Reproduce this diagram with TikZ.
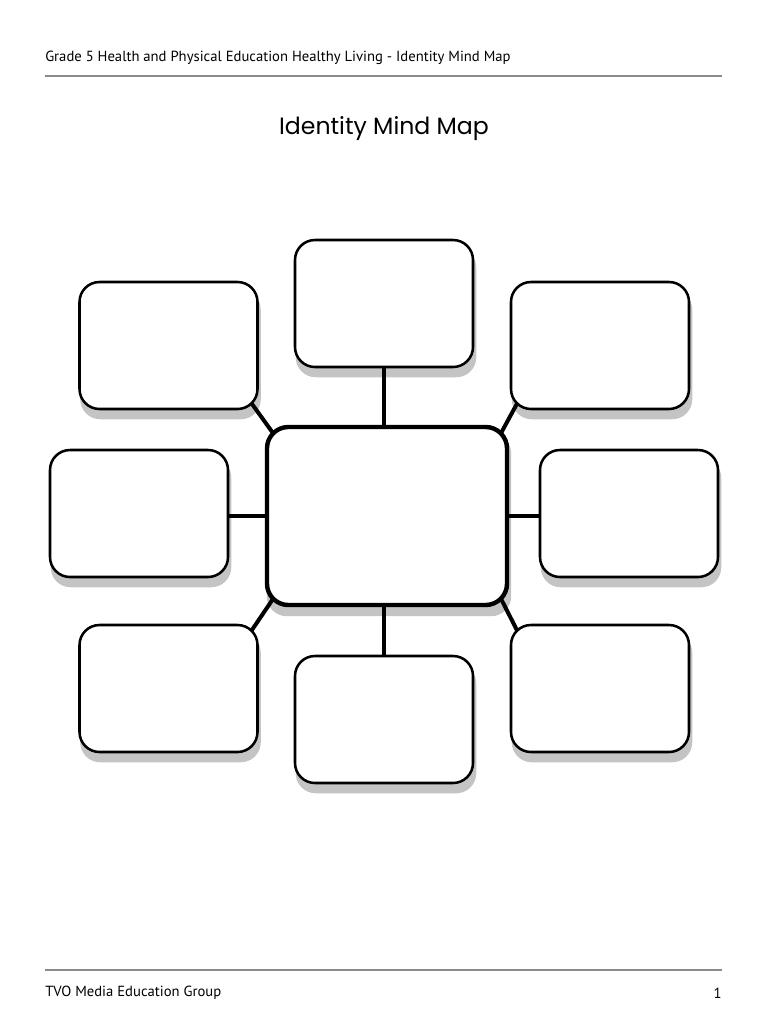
\documentclass[tikz,border=0pt]{standalone}
\usepackage{fontspec}
\setmainfont{PT Sans}
\newfontfamily\titlefont{Poppins}
\usepackage{xcolor}
\usepackage{tikz}
\usetikzlibrary{positioning,calc}
\definecolor{rulegray}{HTML}{8C8C8C}
\definecolor{shadegray}{HTML}{C4C4C4}
\pgfdeclarelayer{shade}
\pgfdeclarelayer{links}
\pgfsetlayers{shade,links,main}
\tikzset{
    idbox/.style={draw, fill=white, line width=1.9pt, rounded corners=15pt,
        minimum width=133.5pt, minimum height=95.25pt},
    hubbox/.style={idbox, line width=3.3pt, rounded corners=16pt,
        minimum width=180pt, minimum height=133.5pt},
    link/.style={line width=3pt},
    pagetext/.style={font=\fontsize{11}{13}\selectfont, inner sep=0pt}
}
\begin{document}
\begin{tikzpicture}[x=0.75pt, y=-0.75pt]
    \useasboundingbox (0,0) rectangle (768,1024);

    % Header and footer
    \node[pagetext, anchor=west] (header) at (45,58) {Grade 5 Health and Physical Education Healthy Living - Identity Mind Map};
    \draw[rulegray, line width=1.1pt] (45,76) -- (722,76);
    \node[font=\titlefont\fontsize{17.7}{20}\selectfont] (title) at (384,129) {Identity Mind Map};
    \draw[rulegray, line width=1.1pt] (45,970) -- (722,970);
    \node[pagetext, anchor=west] (footer) at (45,993) {TVO Media Education Group};
    \node[pagetext, anchor=east] (pagenum) at (722,993) {1};

    % Boxes
    \node[hubbox] (hub) at (387,516) {};
    \node[idbox] (top) at (384,303.5) {};
    \node[idbox] (topleft) at (168.5,345.5) {};
    \node[idbox] (topright) at (600,345.5) {};
    \node[idbox] (left) at (139,513.5) {};
    \node[idbox] (right) at (629,513.5) {};
    \node[idbox] (botleft) at (168.5,688.5) {};
    \node[idbox] (bottom) at (384,719.5) {};
    \node[idbox] (botright) at (600,688.5) {};

    % Shadows
    \begin{pgfonlayer}{shade}
        \fill[white] (0,0) rectangle (768,1024);
        \foreach \b in {hub,top,topleft,topright,left,right,botleft,bottom,botright}
            \fill[shadegray, rounded corners=15pt] ([shift={(2,9)}]\b.south west) rectangle ([shift={(2,9)}]\b.north east);
    \end{pgfonlayer}

    % Connectors
    \begin{pgfonlayer}{links}
        \draw[link] (top.south) -- (top.south |- hub.north);
        \draw[link] (bottom.north) -- (bottom.north |- hub.south);
        \draw[link] (hub.west) -- (hub.west -| left.east);
        \draw[link] (hub.east) -- (hub.east -| right.east);
        \draw[link] ([shift={(-8,-8)}]topleft.south east) -- ([shift={(8,8)}]hub.north west);
        \draw[link] ([shift={(8,-8)}]topright.south west) -- ([shift={(-8,8)}]hub.north east);
        \draw[link] ([shift={(-8,8)}]botleft.north east) -- ([shift={(8,-8)}]hub.south west);
        \draw[link] ([shift={(8,8)}]botright.north west) -- ([shift={(-8,-8)}]hub.south east);
    \end{pgfonlayer}
\end{tikzpicture}
\end{document}
